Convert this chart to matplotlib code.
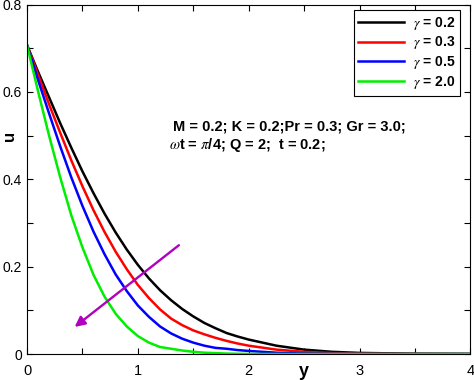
import matplotlib
matplotlib.use("Agg")
import matplotlib.pyplot as plt
from matplotlib.ticker import MultipleLocator

plt.rcParams['font.family'] = ['Liberation Sans', 'DejaVu Sans']
plt.rcParams['mathtext.fontset'] = 'stix'

y_vals = [0.0, 0.1, 0.2, 0.3, 0.4, 0.5, 0.6, 0.7, 0.8, 0.9, 1.0, 1.1, 1.2, 1.3,
          1.4, 1.5, 1.6, 1.7, 1.8, 1.9, 2.0, 2.25, 2.5, 2.75, 3.0, 3.5, 4.0]

u_g02 = [0.707, 0.646, 0.587, 0.528, 0.472, 0.418, 0.368, 0.321, 0.278, 0.239,
         0.204, 0.173, 0.146, 0.123, 0.103, 0.086, 0.071, 0.059, 0.048, 0.040,
         0.033, 0.019, 0.010, 0.005, 0.0025, 0.0006, 0.0001]
u_g03 = [0.707, 0.639, 0.571, 0.506, 0.443, 0.384, 0.329, 0.279, 0.234, 0.194,
         0.158, 0.128, 0.102, 0.081, 0.066, 0.054, 0.045, 0.037, 0.030, 0.024,
         0.019, 0.010, 0.005, 0.002, 0.001, 0.0002, 0.0]
u_g05 = [0.707, 0.627, 0.550, 0.475, 0.404, 0.339, 0.280, 0.228, 0.182, 0.144,
         0.111, 0.085, 0.063, 0.047, 0.035, 0.026, 0.019, 0.014, 0.012, 0.009,
         0.007, 0.003, 0.001, 0.0004, 0.0002, 0.0, 0.0]
u_g20 = [0.707, 0.601, 0.499, 0.404, 0.317, 0.244, 0.181, 0.131, 0.092, 0.063,
         0.041, 0.026, 0.016, 0.012, 0.008, 0.005, 0.003, 0.002, 0.001, 0.0005,
         0.0002, 0.0, 0.0, 0.0, 0.0, 0.0, 0.0]

series = [u_g02, u_g03, u_g05, u_g20]
labels = [r'$\gamma$ = 0.2', r'$\gamma$ = 0.3', r'$\gamma$ = 0.5', r'$\gamma$ = 2.0']
colors = ['#000000', '#ff0000', '#0000ff', '#00ee00']
x_ticks = [0, 1, 2, 3, 4]
x_ticklabels = ['0', '1', '2', '3', '4']
u_ticks = [0, 0.2, 0.4, 0.6, 0.8]
u_ticklabels = ['0', '0.2', '0.4', '0.6', '0.8']

arrow_start = (1.37, 0.249)
arrow_end = (0.43, 0.062)

W, H = 474, 380
fig = plt.figure(figsize=(W / 100, H / 100), dpi=100)
ax = fig.add_axes([27/W, 26/H, (470.5-27)/W, (354-4.5)/H])

for u, lab, c in zip(series, labels, colors):
    ax.plot(y_vals, u, color=c, lw=1.8, label=lab)

ax.set_xlim(0, 4)
ax.set_ylim(0, 0.8)
ax.set_xticks(x_ticks)
ax.set_xticklabels(x_ticklabels)
ax.set_yticks(u_ticks)
ax.set_yticklabels(u_ticklabels)
ax.xaxis.set_minor_locator(MultipleLocator(0.5))
ax.yaxis.set_minor_locator(MultipleLocator(0.1))
ax.tick_params(which='both', direction='in', top=True, right=True, length=4,
               width=0.8)
ax.tick_params(axis='x', pad=7, labelsize=10.5)
ax.tick_params(axis='y', pad=3.5, labelsize=10)
for s in ax.spines.values():
    s.set_linewidth(0.8)

fig.text(304 / W, 1 - 372 / H, 'y', fontsize=13, fontweight='bold',
         ha='center', va='center')
fig.text(9.5 / W, 1 - 136 / H, 'u', fontsize=12, fontweight='bold',
         ha='center', va='center', rotation=90)

ax.annotate('', xy=arrow_end, xytext=arrow_start,
            arrowprops=dict(arrowstyle='-|>', color='#b000c0', lw=1.7,
                            mutation_scale=15, shrinkA=0, shrinkB=0))

ax.text(1.32, 0.521, 'M = 0.2; K = 0.2;Pr = 0.3; Gr = 3.0;', fontsize=10.5,
        fontweight='bold', ha='left', va='center')
ax.text(1.28, 0.478, r'$\omega$t = $\pi$/4; Q = 2;  t = 0.2;', fontsize=10.5,
        fontweight='bold', ha='left', va='center')

leg = ax.legend(loc='upper right', bbox_to_anchor=(0.9825, 0.993),
                prop={'weight': 'bold', 'size': 10}, fancybox=False,
                edgecolor='black', framealpha=1, handlelength=3.3,
                borderpad=0.35, labelspacing=0.2, handletextpad=0.6,
                borderaxespad=0.2)
leg.get_frame().set_linewidth(0.8)

fig.savefig('out.png', dpi=100)
